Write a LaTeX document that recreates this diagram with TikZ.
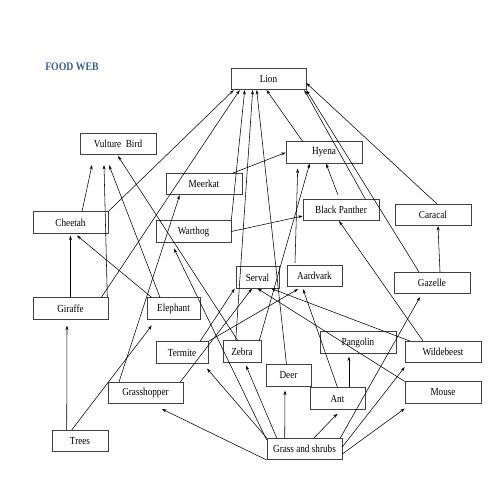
\documentclass[tikz,border=0pt]{standalone}
\usepackage{fontspec}
\setmainfont{Liberation Serif}[FakeStretch=0.85]
\usetikzlibrary{arrows.meta}
\definecolor{titleblue}{HTML}{365F91}
\tikzset{
  animal/.style={draw=black!75, line width=0.6pt, minimum height=21.5, minimum width=76, inner sep=0pt, font=\fontsize{10.8}{12}\selectfont},
  arr/.style={-{Stealth[length=4.5pt,width=3pt]}, line width=0.55pt, black},
}
\begin{document}
\begin{tikzpicture}[x=1pt,y=-1pt]
  \useasboundingbox (0,0) rectangle (495,495);
  \node[font=\fontsize{11.5}{13}\selectfont\bfseries, text=titleblue] (title) at (72,67) {FOOD WEB};
  \node[animal, minimum width=75] (lion) at (268.5,79) {Lion};
  \node[animal] (vulture) at (118,144) {Vulture\ \ Bird};
  \node[animal] (meerkat) at (204,184) {Meerkat};
  \node[animal, minimum width=75] (cheetah) at (70.5,222.5) {Cheetah};
  \node[animal, minimum width=75] (warthog) at (193.5,231.5) {Warthog};
  \node[animal] (hyena) at (324,152.5) {Hyena};
  \node[animal] (panther) at (341,210) {Black Panther};
  \node[animal] (caracal) at (433,215) {Caracal};
  \node[animal, minimum width=75] (giraffe) at (70.5,308.5) {Giraffe};
  \node[animal, minimum width=53] (elephant) at (173.5,308.5) {Elephant};
  \node[animal, minimum width=52] (termite) at (182,352.5) {Termite};
  \node[animal, minimum width=38] (zebra) at (242,351.5) {Zebra};
  \node[animal, minimum width=75] (grasshopper) at (145.5,393) {Grasshopper};
  \node[animal, minimum width=56] (trees) at (80,441) {Trees};
  \node[animal, minimum width=43] (serval) at (257.5,277.5) {Serval};
  \node[animal, minimum width=55] (aardvark) at (314.5,276) {Aardvark};
  \node[animal] (gazelle) at (432,283) {Gazelle};
  \node[animal] (pangolin) at (358,342.5) {Pangolin};
  \node[animal] (wildebeest) at (443,352) {Wildebeest};
  \node[animal, minimum width=45] (deer) at (288.5,375.5) {Deer};
  \node[animal, minimum width=55] (ant) at (337.5,398.5) {Ant};
  \node[animal] (mouse) at (443,392.5) {Mouse};
  \node[animal, minimum width=75] (grass) at (304.5,449) {Grass and shrubs};
  % into Lion
  \draw[arr] (cheetah.north east) -- ([xshift=3]lion.south west);
  \draw[arr] ([xshift=-7]giraffe.north east) -- ([xshift=9]lion.south west);
  \draw[arr] (warthog.north east) -- ([xshift=14]lion.south west);
  \draw[arr] ([xshift=13]zebra.north west) -- ([xshift=22]lion.south west);
  \draw[arr] ([xshift=-2]deer.north) -- ([xshift=26]lion.south west);
  \draw[arr] ([xshift=17]hyena.north west) -- ([xshift=-2]lion.south);
  \draw[arr] ([xshift=-14]panther.north east) -- ([xshift=-2]lion.south east);
  \draw[arr] ([xshift=-13]gazelle.north) -- (lion.south east);
  \draw[arr] ([xshift=4]caracal.north) -- ([yshift=-4]lion.east);
  % into Vulture Bird
  \draw[arr] ([xshift=11.5]cheetah.north) -- ([xshift=-26,yshift=-10]vulture.south);
  \draw[arr] ([xshift=-1]giraffe.north east) -- ([xshift=-14,yshift=-10]vulture.south);
  \draw[arr] ([xshift=-13.5]elephant.north) -- ([xshift=-9,yshift=-10]vulture.south);
  \draw[arr] ([xshift=15]zebra.north west) -- ([yshift=-1]vulture.south);
  % into Cheetah, Giraffe, Elephant, Meerkat
  \draw[arr] (giraffe.north) -- ([yshift=-2]cheetah.south);
  \draw[arr] ([xshift=5]elephant.north west) -- ([xshift=6.5,yshift=-2]cheetah.south);
  \draw[arr] ([xshift=15]trees.north west) -- ([xshift=-3.5,yshift=-6]giraffe.south);
  \draw[arr] ([xshift=20]trees.north west) -- ([xshift=5,yshift=-6]elephant.south west);
  \draw[arr] ([xshift=-26.5]grasshopper.north) -- ([xshift=14]meerkat.south west);
  % into Hyena, Black Panther, Caracal
  \draw[arr] ([xshift=-9]meerkat.north east) -- (hyena.west);
  \draw[arr] ([xshift=-3,yshift=4]panther.north) -- ([xshift=2]hyena.south);
  \draw[arr] ([xshift=-19.5,yshift=2]aardvark.north) -- ([xshift=12,yshift=-5]hyena.south west);
  \draw[arr] ([xshift=-2]zebra.north east) -- ([xshift=24]hyena.south west);
  \draw[arr] (warthog.east) -- ([yshift=-6]panther.west);
  \draw[arr] ([xshift=-20]wildebeest.north) -- ([xshift=-2]panther.south);
  \draw[arr] ([xshift=8]gazelle.north) -- ([xshift=5]caracal.south);
  % into Serval, Aardvark, Pangolin
  \draw[arr] ([xshift=18]termite.north) -- ([xshift=-1]serval.south west);
  \draw[arr] ([xshift=-3]grasshopper.north east) -- ([xshift=-5.5]serval.south);
  \draw[arr] (mouse.north west) -- (serval.south);
  \draw[arr] ([xshift=5]wildebeest.north west) -- ([xshift=-8]serval.south east);
  \draw[arr] (termite.north east) -- ([xshift=-16.5,yshift=-2]aardvark.south);
  \draw[arr] (ant.north) -- ([xshift=-11.5,yshift=-2]aardvark.south);
  \draw[arr] ([xshift=11.5]ant.north) -- ([xshift=-9,yshift=-3]pangolin.south);
  % from Grass and shrubs
  \draw[arr] (grass.north west) -- ([xshift=25,yshift=-5]termite.south);
  \draw[arr] ([xshift=10]grass.north west) -- ([xshift=4,yshift=-3]zebra.south);
  \draw[arr] ([yshift=-2]grass.north west) -- ([xshift=-19.5,yshift=-6]warthog.south);
  \draw[arr] (grass.south west) -- ([xshift=16.5,yshift=-5]grasshopper.south);
  \draw[arr] ([xshift=18]grass.north west) -- ([xshift=-3.5,yshift=-4]deer.south);
  \draw[arr] ([xshift=9.5]grass.north) -- ([yshift=-4]ant.south);
  \draw[arr] ([xshift=-2]grass.north east) -- ([xshift=-12,yshift=-3]gazelle.south);
  \draw[arr] ([yshift=2]grass.east) -- ([yshift=-4]wildebeest.south west);
  \draw[arr] ([yshift=-5]grass.east) -- ([yshift=-5]mouse.south west);
\end{tikzpicture}
\end{document}
